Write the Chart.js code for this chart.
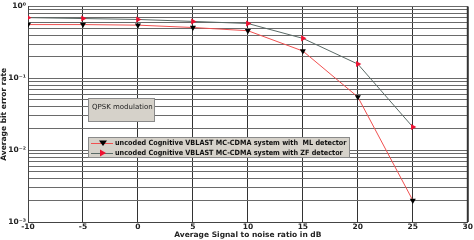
<!DOCTYPE html>
<html><head><meta charset="utf-8">
<script src="https://cdn.jsdelivr.net/npm/chart.js@4/dist/chart.umd.min.js"></script>
<style>html,body{margin:0;padding:0;background:#fff}#wrap{width:474px;height:240px}</style>
</head><body><div id="wrap"><canvas id="c" width="474" height="240"></canvas></div>
<script>
const snr = [-10, -5, 0, 5, 10, 15, 20, 25];
const berML = [0.56, 0.56, 0.55, 0.51, 0.46, 0.24, 0.055, 0.0020];
const berZF = [0.70, 0.68, 0.66, 0.62, 0.58, 0.36, 0.158, 0.021];
const seriesNames = ['uncoded Cognitive VBLAST MC-CDMA system with  ML detector', 'uncoded Cognitive VBLAST MC-CDMA system with ZF detector'];
const yDecadeLabels = {'1': '10\u2070', '0.1': '10\u207B\u00B9', '0.01': '10\u207B\u00B2', '0.001': '10\u207B\u00B3'};
const xTitle = 'Average Signal to noise ratio in dB';
const yTitle = 'Average bit error rate';
const noteText = 'QPSK modulation';

const FONT = 'DejaVu Sans';
const LFONT = '"DejaVu Sans Condensed", "DejaVu Sans"';
const overlay = {
  id: 'overlay',
  afterDraw(chart) {
    const ctx = chart.ctx;
    const a = chart.chartArea;
    ctx.save();
    // heavier right frame
    ctx.strokeStyle = '#333'; ctx.lineWidth = 2;
    ctx.beginPath(); ctx.moveTo(a.right, a.top); ctx.lineTo(a.right, a.bottom); ctx.stroke();
    // note box
    ctx.fillStyle = '#d6d2ca'; ctx.strokeStyle = '#8a8a8a'; ctx.lineWidth = 1;
    ctx.fillRect(88.5, 98.5, 66, 23); ctx.strokeRect(88.5, 98.5, 66, 23);
    ctx.fillStyle = '#222'; ctx.font = '7px ' + FONT; ctx.textBaseline = 'middle';
    ctx.fillText(noteText, 92, 107);
    // legend box
    ctx.fillStyle = '#d6d2ca'; ctx.strokeStyle = '#8a8a8a';
    ctx.fillRect(88.5, 137.5, 261, 20); ctx.strokeRect(88.5, 137.5, 261, 20);
    const ds = chart.data.datasets;
    const rows = [143, 153];
    // fit legend text to box width
    let fs = 7.5;
    ctx.font = 'bold ' + fs + 'px ' + LFONT;
    const w = ctx.measureText(ds[0].label).width;
    fs = Math.min(8, fs * 232 / w);
    ds.forEach((d, i) => {
      const y = rows[i];
      ctx.strokeStyle = d.borderColor; ctx.lineWidth = 1;
      ctx.beginPath(); ctx.moveTo(91, y + 0.5); ctx.lineTo(113, y + 0.5); ctx.stroke();
      ctx.fillStyle = d.pointBackgroundColor;
      ctx.beginPath();
      if (i === 0) { ctx.moveTo(99, y - 2.5); ctx.lineTo(107, y - 2.5); ctx.lineTo(103, y + 3); }
      else { ctx.moveTo(100, y - 3.5); ctx.lineTo(106, y); ctx.lineTo(100, y + 3.5); }
      ctx.closePath(); ctx.fill();
      ctx.fillStyle = '#111'; ctx.font = 'bold ' + fs + 'px ' + LFONT; ctx.textBaseline = 'middle';
      ctx.fillText(d.label, 115, y);
    });
    ctx.restore();
  }
};

new Chart(document.getElementById('c'), {
  type: 'line',
  data: {
    datasets: [
      { label: seriesNames[0], data: snr.map((x, i) => ({x, y: berML[i]})), borderColor: '#f05050', borderWidth: 1,
        pointStyle: 'triangle', rotation: 180, pointRadius: 3.5, pointBackgroundColor: '#000', pointBorderColor: '#000', pointBorderWidth: 0, tension: 0 },
      { label: seriesNames[1], data: snr.map((x, i) => ({x, y: berZF[i]})), borderColor: '#5a6a66', borderWidth: 1,
        pointStyle: 'triangle', rotation: 90, pointRadius: 3.5, pointBackgroundColor: '#ee1030', pointBorderColor: '#ee1030', pointBorderWidth: 0, tension: 0 }
    ]
  },
  options: {
    responsive: false, animation: false, devicePixelRatio: 1,
    layout: { padding: { top: 6, right: 6, left: 0, bottom: 0 } },
    plugins: { legend: { display: false }, tooltip: { enabled: false } },
    scales: {
      x: {
        type: 'linear', min: -10, max: 30,
        ticks: { stepSize: 5, color: '#222', font: { family: FONT, size: 7.5, weight: 'bold' }, padding: 1, maxRotation: 0 },
        grid: { color: '#333', lineWidth: 1, drawTicks: false },
        border: { color: '#444' },
        title: { display: true, text: xTitle, color: '#222', font: { family: FONT, size: 7.5, weight: 'bold' }, padding: { top: 0, bottom: 0 } },
        afterFit(s) { s.height = 18; }
      },
      y: {
        type: 'logarithmic', min: 0.001, max: 1,
        afterBuildTicks(s) {
          const t = [];
          [0.001, 0.01, 0.1].forEach(d => { for (let m = 1; m < 10; m++) t.push({value: d * m}); });
          t.push({value: 1});
          s.ticks = t;
        },
        ticks: { autoSkip: false, color: '#222', font: { family: FONT, size: 7.5, weight: 'bold' }, padding: 2,
          callback(v) { const k = String(+v.toPrecision(3)); return yDecadeLabels[k] || ''; } },
        grid: { color: '#6a6a6a', lineWidth: 1, drawTicks: false },
        border: { color: '#444' },
        title: { display: true, text: yTitle, color: '#222', font: { family: FONT, size: 7.5, weight: 'bold' }, padding: { top: 0, bottom: 0 } },
        afterFit(s) { s.width = 28; }
      }
    }
  },
  plugins: [overlay]
});
</script></body></html>
